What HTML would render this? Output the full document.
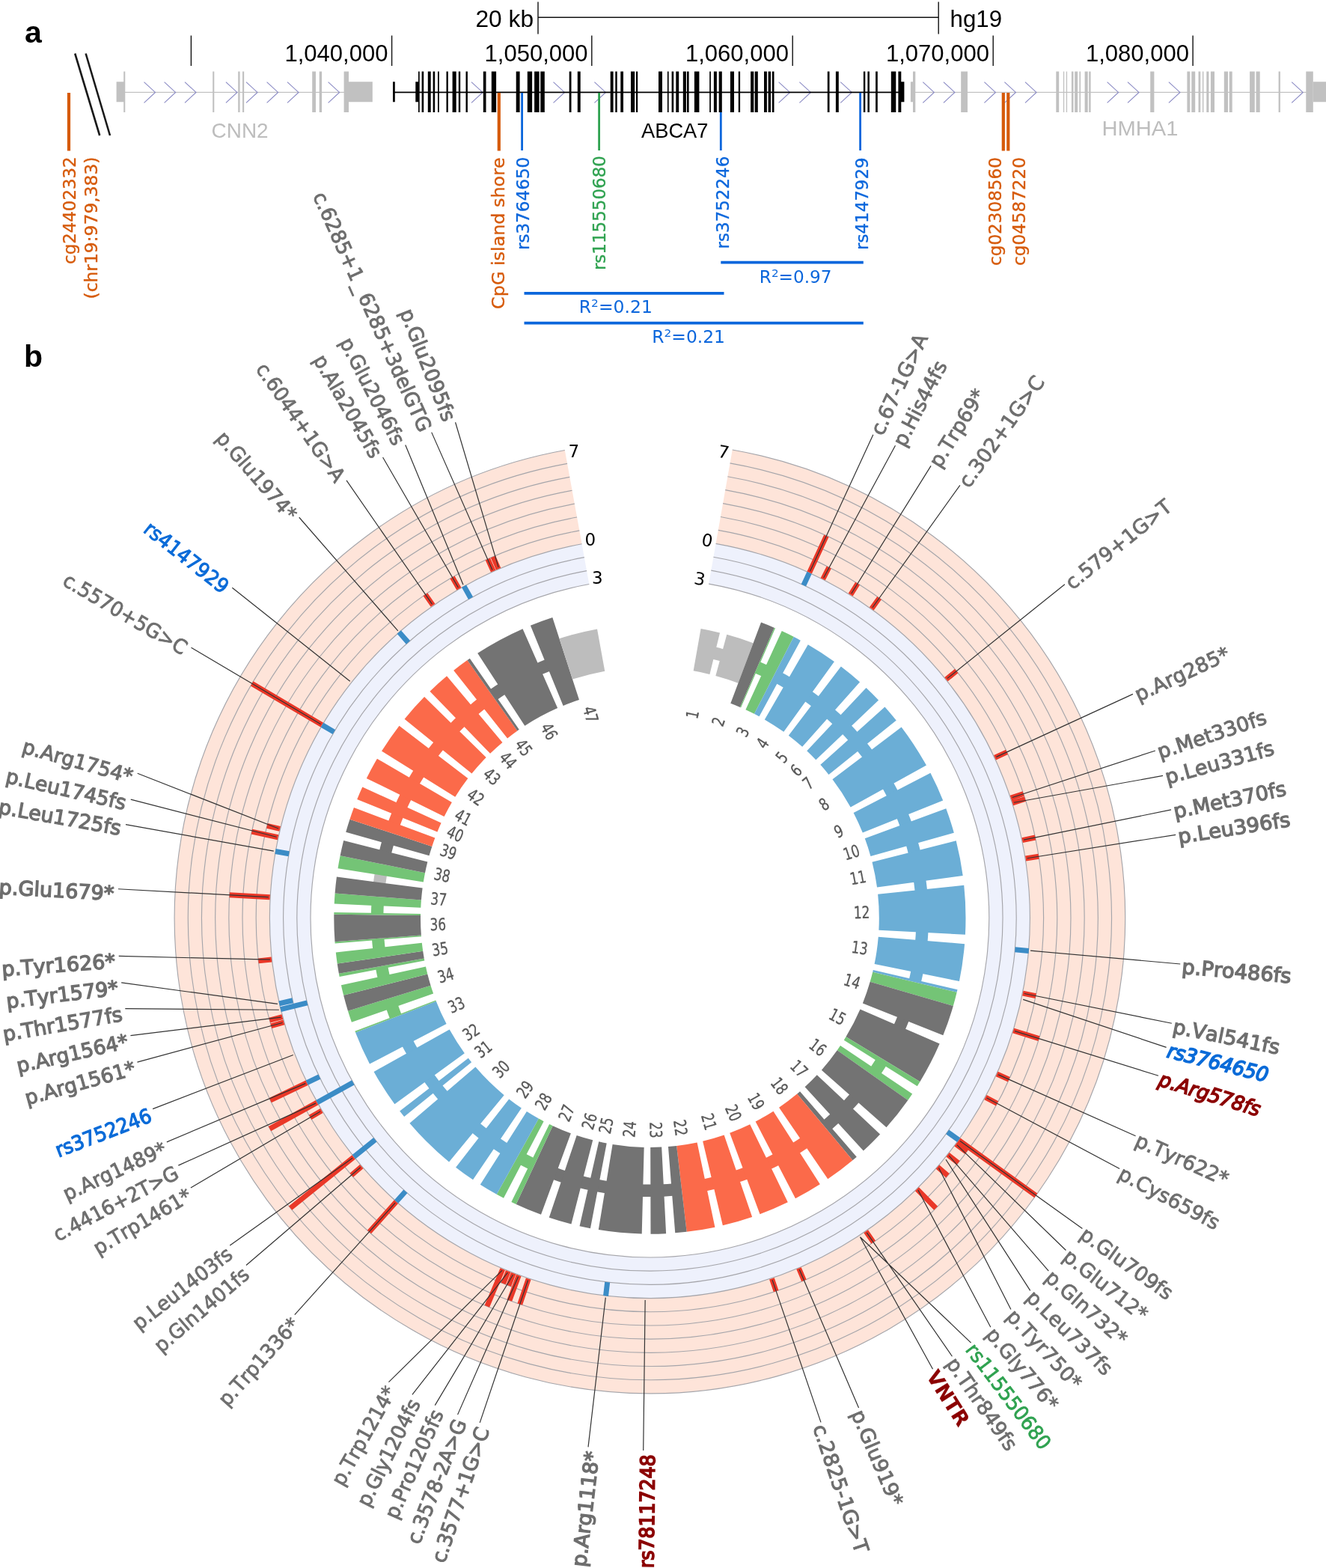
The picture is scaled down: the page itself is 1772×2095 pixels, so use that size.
<!DOCTYPE html>
<html><head><meta charset="utf-8"><title>ABCA7 locus and variants</title>
<style>
html,body{margin:0;padding:0;background:#fff}
svg{display:block}
text{font-kerning:none}
.h{font-family:"Liberation Sans",sans-serif}
.d{font-family:"DejaVu Sans","Liberation Sans",sans-serif}
.l{font-family:"DejaVu Sans","Liberation Sans",sans-serif;font-size:26.8px;font-kerning:none}
.n{font-family:"DejaVu Sans Condensed","DejaVu Sans","Liberation Sans",sans-serif;fill:#585858;stroke:#585858;stroke-width:0.3px}
</style></head><body>
<svg width="1772" height="2095" viewBox="0 0 1772 2095">
<rect width="1772" height="2095" fill="#fff"/>
<g id="panel-a">
<path d="M719 2.5V45.5M1254.2 2.5V45.5M719 23.2H1254.2" stroke="#111" stroke-width="1.4" fill="none"/>
<text x="713" y="36.2" font-size="32" text-anchor="end" textLength="77.5" lengthAdjust="spacingAndGlyphs" class="h">20 kb</text>
<text x="1269.5" y="36.2" font-size="32" textLength="69.5" lengthAdjust="spacingAndGlyphs" class="h">hg19</text>
<path d="M255.4 47.5V88M523.6 47.5V88M790.8 47.5V88M1059.2 47.5V88M1327.2 47.5V88M1594.1 47.5V88" stroke="#111" stroke-width="1.4" fill="none"/>
<text x="518.4" y="82" font-size="31" text-anchor="end" textLength="138" lengthAdjust="spacingAndGlyphs" class="h">1,040,000</text>
<text x="785.6" y="82" font-size="31" text-anchor="end" textLength="138" lengthAdjust="spacingAndGlyphs" class="h">1,050,000</text>
<text x="1054" y="82" font-size="31" text-anchor="end" textLength="138" lengthAdjust="spacingAndGlyphs" class="h">1,060,000</text>
<text x="1322" y="82" font-size="31" text-anchor="end" textLength="138" lengthAdjust="spacingAndGlyphs" class="h">1,070,000</text>
<text x="1588.9" y="82" font-size="31" text-anchor="end" textLength="138" lengthAdjust="spacingAndGlyphs" class="h">1,080,000</text>
<text x="33" y="57.3" font-size="41" font-weight="bold" class="h">a</text>
<text x="32" y="489.5" font-size="41" font-weight="bold" class="h">b</text>
<path d="M100.2 71.5L133.2 181M114.6 71.5L147 181" stroke="#1a1a1a" stroke-width="2.6" fill="none"/>
<path d="M166 123.4H460" stroke="#c1c1c1" stroke-width="1.4"/>
<path d="M192.5 109.6L207.5 123.4L192.5 137.3M219.6 109.6L234.6 123.4L219.6 137.3M247 109.6L262 123.4L247 137.3M301.9 109.6L316.9 123.4L301.9 137.3M329 109.6L344 123.4L329 137.3M356.6 109.6L371.6 123.4L356.6 137.3M384 109.6L399 123.4L384 137.3M438.6 109.6L453.6 123.4L438.6 137.3" fill="none" stroke="#8a8ac4" stroke-width="1.1"/>
<path d="M155.6 109.3H166.4V136.3H155.6ZM466 109.3H497.8V136.3H466Z" fill="#c1c1c1"/>
<path d="M165.2 95.5H167.3V150H165.2ZM284.2 95.5H286.3V150H284.2ZM318.2 95.5H320.6V150H318.2ZM324 95.5H326.2V150H324ZM417.2 95.5H422V150H417.2ZM426.7 95.5H430.1V150H426.7ZM459.6 95.5H466V150H459.6Z" fill="#c1c1c1"/>
<path d="M1223 123.4H1746" stroke="#c1c1c1" stroke-width="1.4"/>
<path d="M1233.3 109.6L1248.3 123.4L1233.3 137.3M1260.9 109.6L1275.9 123.4L1260.9 137.3M1315.4 109.6L1330.4 123.4L1315.4 137.3M1342.4 109.6L1357.4 123.4L1342.4 137.3M1370 109.6L1385 123.4L1370 137.3M1479.6 109.6L1494.6 123.4L1479.6 137.3M1507 109.6L1522 123.4L1507 137.3M1561.9 109.6L1576.9 123.4L1561.9 137.3M1726.2 109.6L1741.2 123.4L1726.2 137.3" fill="none" stroke="#8a8ac4" stroke-width="1.1"/>
<path d="M1216.9 109.3H1220.2V136.3H1216.9ZM1754.8 109.3H1772V136.3H1754.8Z" fill="#c1c1c1"/>
<path d="M1220 95.5H1223.3V150H1220ZM1284.2 95.5H1293V150H1284.2ZM1411.3 95.5H1415.2V150H1411.3ZM1420.9 95.5H1422.2V150H1420.9ZM1424.8 95.5H1426.1V150H1424.8ZM1431.9 95.5H1434.5V150H1431.9ZM1436.2 95.5H1440.2V150H1436.2ZM1442.4 95.5H1444.1V150H1442.4ZM1449.6 95.5H1453.7V150H1449.6ZM1455.2 95.5H1457.6V150H1455.2ZM1537.2 95.5H1542.4V150H1537.2ZM1586.4 95.5H1590.3V150H1586.4ZM1592.3 95.5H1597.2V150H1592.3ZM1601.5 95.5H1604.3V150H1601.5ZM1606.9 95.5H1608.4V150H1606.9ZM1612.3 95.5H1615.4V150H1612.3ZM1617.9 95.5H1623V150H1617.9ZM1635.8 95.5H1641V150H1635.8ZM1642.7 95.5H1646.7V150H1642.7ZM1670.1 95.5H1676.8V150H1670.1ZM1678.5 95.5H1683.7V150H1678.5ZM1708.6 95.5H1710.9V150H1708.6ZM1745.3 95.5H1754.8V150H1745.3Z" fill="#c1c1c1"/>
<path d="M630 109.6L645 123.4L630 137.3M739.5 109.6L754.5 123.4L739.5 137.3M794.4 109.6L809.4 123.4L794.4 137.3M1040.6 109.6L1055.6 123.4L1040.6 137.3M1068.4 109.6L1083.4 123.4L1068.4 137.3M1123.3 109.6L1138.3 123.4L1123.3 137.3" fill="none" stroke="#8a8ac4" stroke-width="1.1"/>
<path d="M526 123.4H1202" stroke="#000" stroke-width="1.9"/>
<path d="M525 109.3H527.8V136.3H525ZM555.3 109.3H559.2V136.3H555.3ZM1204 109.3H1208.4V136.3H1204Z" fill="#000"/>
<path d="M559 95.5H560.7V150H559ZM563.6 95.5H566.2V150H563.6ZM571.8 95.5H575.7V150H571.8ZM578.6 95.5H581.2V150H578.6ZM585 95.5H586.8V150H585ZM596.5 95.5H598.8V150H596.5ZM604.6 95.5H609.7V150H604.6ZM612.8 95.5H615.2V150H612.8ZM622.5 95.5H624.9V150H622.5ZM645.8 95.5H649.5V150H645.8ZM656.8 95.5H663.1V150H656.8ZM689.7 95.5H694.6V150H689.7ZM704.8 95.5H711.1V150H704.8ZM714.1 95.5H720.6V150H714.1ZM722.3 95.5H727.8V150H722.3ZM760.7 95.5H763.5V150H760.7ZM771.8 95.5H775.7V150H771.8ZM815.7 95.5H819.6V150H815.7ZM822.3 95.5H824.7V150H822.3ZM829.3 95.5H833V150H829.3ZM843 95.5H848.2V150H843ZM850 95.5H852.2V150H850ZM880 95.5H885V150H880ZM891.9 95.5H893.6V150H891.9ZM897.6 95.5H900.2V150H897.6ZM903.3 95.5H907.2V150H903.3ZM912.8 95.5H916.9V150H912.8ZM918 95.5H920.6V150H918ZM927.9 95.5H934.4V150H927.9ZM948.2 95.5H949.9V150H948.2ZM953.9 95.5H957.9V150H953.9ZM960.7 95.5H964.8V150H960.7ZM975.9 95.5H981V150H975.9ZM986.8 95.5H989.1V150H986.8ZM1003.1 95.5H1007.3V150H1003.1ZM1008.7 95.5H1012.8V150H1008.7ZM1021 95.5H1024.9V150H1021ZM1026.6 95.5H1030.1V150H1026.6ZM1031.8 95.5H1034.5V150H1031.8ZM1105.8 95.5H1108.5V150H1105.8ZM1116.9 95.5H1120.8V150H1116.9ZM1153.9 95.5H1156.3V150H1153.9ZM1159.4 95.5H1161.9V150H1159.4ZM1170.1 95.5H1172.8V150H1170.1ZM1190.8 95.5H1197.3V150H1190.8ZM1200.4 95.5H1204.3V150H1200.4Z" fill="#000"/>
<text x="282.6" y="184" font-size="28" fill="#bdbdbd" textLength="76" lengthAdjust="spacingAndGlyphs" class="h">CNN2</text>
<text x="857" y="184" font-size="28" fill="#000" textLength="89.5" lengthAdjust="spacingAndGlyphs" class="h">ABCA7</text>
<text x="1472.4" y="181.4" font-size="28" fill="#bdbdbd" textLength="102" lengthAdjust="spacingAndGlyphs" class="h">HMHA1</text>
<path d="M92 124V201.5M666.8 124V201.5M1340.8 124V201.5M1347.3 124V201.5" stroke="#d65a0a" stroke-width="4.2" fill="none"/>
<path d="M697.6 124V201M963.3 150V201M1149.6 124V201" stroke="#0a66dc" stroke-width="2.8" fill="none"/>
<path d="M800.6 124V201" stroke="#2fa250" stroke-width="2.8" fill="none"/>
<text transform="translate(100.7 352.9) rotate(-90)" font-size="23.3" fill="#d65a0a" stroke="#d65a0a" stroke-width="0.35" textLength="143.5" lengthAdjust="spacingAndGlyphs" class="d">cg24402332</text>
<text transform="translate(130 399.5) rotate(-90)" font-size="23.3" fill="#d65a0a" stroke="#d65a0a" stroke-width="0.35" textLength="190" lengthAdjust="spacingAndGlyphs" class="d">(chr19:979,383)</text>
<text transform="translate(674.4 412.9) rotate(-90)" font-size="23.3" fill="#d65a0a" stroke="#d65a0a" stroke-width="0.35" textLength="202.6" lengthAdjust="spacingAndGlyphs" class="d">CpG island shore</text>
<text transform="translate(707.1 334.1) rotate(-90)" font-size="23.3" fill="#0a66dc" stroke="#0a66dc" stroke-width="0.35" textLength="124.4" lengthAdjust="spacingAndGlyphs" class="d">rs3764650</text>
<text transform="translate(809.4 361.1) rotate(-90)" font-size="23.3" fill="#2fa250" stroke="#2fa250" stroke-width="0.35" textLength="153" lengthAdjust="spacingAndGlyphs" class="d">rs115550680</text>
<text transform="translate(973.5 332.5) rotate(-90)" font-size="23.3" fill="#0a66dc" stroke="#0a66dc" stroke-width="0.35" textLength="123.8" lengthAdjust="spacingAndGlyphs" class="d">rs3752246</text>
<text transform="translate(1159.5 334) rotate(-90)" font-size="23.3" fill="#0a66dc" stroke="#0a66dc" stroke-width="0.35" textLength="123.7" lengthAdjust="spacingAndGlyphs" class="d">rs4147929</text>
<text transform="translate(1338.3 354.9) rotate(-90)" font-size="23.3" fill="#d65a0a" stroke="#d65a0a" stroke-width="0.35" textLength="144.8" lengthAdjust="spacingAndGlyphs" class="d">cg02308560</text>
<text transform="translate(1370.2 354.9) rotate(-90)" font-size="23.3" fill="#d65a0a" stroke="#d65a0a" stroke-width="0.35" textLength="144.8" lengthAdjust="spacingAndGlyphs" class="d">cg04587220</text>
<path d="M963.3 350.6H1153.8M700.5 391.9H967.5M700.5 431.6H1153.8" stroke="#0a66dc" stroke-width="3.8" fill="none"/>
<text x="1014.8" y="377.9" font-size="22.2" fill="#0a66dc" textLength="96.8" lengthAdjust="spacingAndGlyphs" class="d">R<tspan font-size="14.5" dy="-8">2</tspan><tspan dy="8">=0.97</tspan></text>
<text x="773.8" y="418.3" font-size="22.2" fill="#0a66dc" textLength="98.1" lengthAdjust="spacingAndGlyphs" class="d">R<tspan font-size="14.5" dy="-8">2</tspan><tspan dy="8">=0.21</tspan></text>
<text x="871.3" y="457.9" font-size="22.2" fill="#0a66dc" textLength="97.7" lengthAdjust="spacingAndGlyphs" class="d">R<tspan font-size="14.5" dy="-8">2</tspan><tspan dy="8">=0.21</tspan></text>
</g>
<g id="panel-b">
<path d="M978.72 600.95A635.3 635.3 0 1 1 754.81 601.54L777.57 726.79A508 508 0 1 0 956.61 726.32Z" fill="#fee4d9"/>
<path d="M956.61 726.32A508 508 0 1 1 777.57 726.79L787.33 780.51A453.4 453.4 0 1 0 947.13 780.09Z" fill="#eef1fc"/>
<path d="M956.61 726.32A508 508 0 1 1 777.57 726.79" fill="none" stroke="#a5a5aa" stroke-width="1.15"/>
<path d="M959.77 708.41A526.19 526.19 0 1 1 774.32 708.89" fill="none" stroke="#a5a5aa" stroke-width="1.15"/>
<path d="M962.93 690.5A544.37 544.37 0 1 1 771.07 691" fill="none" stroke="#a5a5aa" stroke-width="1.15"/>
<path d="M966.09 672.59A562.56 562.56 0 1 1 767.81 673.11" fill="none" stroke="#a5a5aa" stroke-width="1.15"/>
<path d="M969.24 654.68A580.74 580.74 0 1 1 764.56 655.22" fill="none" stroke="#a5a5aa" stroke-width="1.15"/>
<path d="M972.4 636.77A598.93 598.93 0 1 1 761.31 637.32" fill="none" stroke="#a5a5aa" stroke-width="1.15"/>
<path d="M975.56 618.86A617.11 617.11 0 1 1 758.06 619.43" fill="none" stroke="#a5a5aa" stroke-width="1.15"/>
<path d="M978.72 600.95A635.3 635.3 0 1 1 754.81 601.54" fill="none" stroke="#a5a5aa" stroke-width="1.15"/>
<path d="M953.45 744.24A489.8 489.8 0 1 1 780.82 744.69" fill="none" stroke="#a5a5aa" stroke-width="1.15"/>
<path d="M950.29 762.16A471.6 471.6 0 1 1 784.08 762.6" fill="none" stroke="#a5a5aa" stroke-width="1.15"/>
<path d="M947.13 780.09A453.4 453.4 0 1 1 787.33 780.51" fill="none" stroke="#a5a5aa" stroke-width="1.15"/>
<path d="M956.31 864.62A372.5 372.5 0 0 1 967.01 867.39L962.64 883.3A356 356 0 0 0 952.41 880.66Z" fill="#bdbdbd"/>
<path d="M1015.44 884.35A372.5 372.5 0 0 1 1024.94 888.59L1018.01 903.56A356 356 0 0 0 1008.93 899.51Z" fill="#74c476"/>
<path d="M1045.28 898.78A372.5 372.5 0 0 1 1055.77 904.66L1047.48 918.92A356 356 0 0 0 1037.45 913.3Z" fill="#6baed6"/>
<path d="M1085.14 923.64A372.5 372.5 0 0 1 1094.6 930.64L1084.58 943.75A356 356 0 0 0 1075.53 937.06Z" fill="#6baed6"/>
<path d="M1115.37 947.74A372.5 372.5 0 0 1 1124.25 955.86L1112.91 967.85A356 356 0 0 0 1104.43 960.1Z" fill="#6baed6"/>
<path d="M1137.48 969.01A372.5 372.5 0 0 1 1146.18 978.41L1133.87 989.41A356 356 0 0 0 1125.56 980.42Z" fill="#6baed6"/>
<path d="M1158.42 992.84A372.5 372.5 0 0 1 1165.7 1002.16L1152.53 1012.11A356 356 0 0 0 1145.57 1003.19Z" fill="#6baed6"/>
<path d="M1194.04 1045.72A372.5 372.5 0 0 1 1199.8 1056.5L1185.12 1064.04A356 356 0 0 0 1179.61 1053.74Z" fill="#6baed6"/>
<path d="M1213.78 1087.06A372.5 372.5 0 0 1 1218.1 1098.28L1202.61 1103.97A356 356 0 0 0 1198.48 1093.24Z" fill="#6baed6"/>
<path d="M1226.81 1125.11A372.5 372.5 0 0 1 1229.82 1136.42L1213.81 1140.42A356 356 0 0 0 1210.93 1129.61Z" fill="#6baed6"/>
<path d="M1237.42 1175.79A372.5 372.5 0 0 1 1238.99 1188.96L1222.58 1190.62A356 356 0 0 0 1221.07 1178.04Z" fill="#6baed6"/>
<path d="M1240.44 1245.12A372.5 372.5 0 0 1 1239.57 1258.09L1223.13 1256.7A356 356 0 0 0 1223.96 1244.3Z" fill="#6baed6"/>
<path d="M1233.55 1300.23A372.5 372.5 0 0 1 1230.98 1311.98L1214.92 1308.2A356 356 0 0 0 1217.38 1296.97Z" fill="#6baed6"/>
<path d="M1214.62 1364.03A372.5 372.5 0 0 1 1209.75 1375.73L1194.63 1369.12A356 356 0 0 0 1199.29 1357.94Z" fill="#737373"/>
<path d="M1184.3 1423.99A372.5 372.5 0 0 1 1177.4 1434.63L1163.71 1425.42A356 356 0 0 0 1170.31 1415.25Z" fill="#74c476"/>
<path d="M1148.03 1472.69A372.5 372.5 0 0 1 1139.27 1482.3L1127.27 1470.98A356 356 0 0 0 1135.64 1461.79Z" fill="#737373"/>
<path d="M1121.01 1500.36A372.5 372.5 0 0 1 1111.55 1508.79L1100.78 1496.29A356 356 0 0 0 1109.82 1488.23Z" fill="#737373"/>
<path d="M1079.12 1533.77A372.5 372.5 0 0 1 1068.27 1540.94L1059.42 1527.01A356 356 0 0 0 1069.78 1520.16Z" fill="#fb6a4a"/>
<path d="M1040.98 1556.71A372.5 372.5 0 0 1 1030.23 1562.11L1023.06 1547.25A356 356 0 0 0 1033.33 1542.09Z" fill="#fb6a4a"/>
<path d="M999.16 1575.4A372.5 372.5 0 0 1 988.14 1579.33L982.83 1563.71A356 356 0 0 0 993.36 1559.95Z" fill="#fb6a4a"/>
<path d="M955.36 1588.81A372.5 372.5 0 0 1 944.26 1591.29L940.9 1575.14A356 356 0 0 0 951.51 1572.76Z" fill="#fb6a4a"/>
<path d="M899.25 1597.82A372.5 372.5 0 0 1 886.6 1598.66L885.79 1582.17A356 356 0 0 0 897.88 1581.38Z" fill="#737373"/>
<path d="M870.35 1599.09A372.5 372.5 0 0 1 858 1598.95L858.46 1582.46A356 356 0 0 0 870.26 1582.6Z" fill="#737373"/>
<path d="M808.84 1594.31A372.5 372.5 0 0 1 797.32 1592.26L800.47 1576.06A356 356 0 0 0 811.48 1578.02Z" fill="#737373"/>
<path d="M786.51 1589.99A372.5 372.5 0 0 1 774.82 1587.15L778.96 1571.18A356 356 0 0 0 790.13 1573.89Z" fill="#737373"/>
<path d="M750.51 1579.95A372.5 372.5 0 0 1 739.17 1575.96L744.89 1560.49A356 356 0 0 0 755.73 1564.3Z" fill="#737373"/>
<path d="M705.98 1561.83A372.5 372.5 0 0 1 695.13 1556.35L702.81 1541.74A356 356 0 0 0 713.18 1546.98Z" fill="#74c476"/>
<path d="M669.24 1541.39A372.5 372.5 0 0 1 659.02 1534.69L668.3 1521.04A356 356 0 0 0 678.07 1527.45Z" fill="#6baed6"/>
<path d="M640.35 1521.13A372.5 372.5 0 0 1 630.86 1513.53L641.38 1500.82A356 356 0 0 0 650.45 1508.09Z" fill="#6baed6"/>
<path d="M585.78 1469.26A372.5 372.5 0 0 1 578.1 1460.01L590.96 1449.67A356 356 0 0 0 598.3 1458.51Z" fill="#6baed6"/>
<path d="M574.07 1454.91A372.5 372.5 0 0 1 566.85 1445.29L580.21 1435.6A356 356 0 0 0 587.1 1444.79Z" fill="#6baed6"/>
<path d="M543.4 1408.61A372.5 372.5 0 0 1 537.54 1397.74L552.19 1390.16A356 356 0 0 0 557.79 1400.55Z" fill="#6baed6"/>
<path d="M520.99 1361A372.5 372.5 0 0 1 516.41 1348.49L532 1343.09A356 356 0 0 0 536.38 1355.05Z" fill="#74c476"/>
<path d="M504.59 1306.59A372.5 372.5 0 0 1 502.2 1294.8L518.42 1291.78A356 356 0 0 0 520.7 1303.05Z" fill="#74c476"/>
<path d="M498.21 1267.99A372.5 372.5 0 0 1 497.02 1255.5L513.47 1254.22A356 356 0 0 0 514.6 1266.16Z" fill="#74c476"/>
<path d="M495.94 1220.81A372.5 372.5 0 0 1 496.32 1208.86L512.8 1209.64A356 356 0 0 0 512.44 1221.07Z" fill="#74c476"/>
<path d="M498.96 1178.95A372.5 372.5 0 0 1 500.69 1167.04L516.98 1169.68A356 356 0 0 0 515.33 1181.06Z" fill="#bdbdbd"/>
<path d="M507.04 1136.17A372.5 372.5 0 0 1 510.2 1124.36L526.07 1128.89A356 356 0 0 0 523.05 1140.17Z" fill="#737373"/>
<path d="M519.06 1097.31A372.5 372.5 0 0 1 523.54 1085.79L538.81 1092.03A356 356 0 0 0 534.53 1103.03Z" fill="#fb6a4a"/>
<path d="M529.04 1073.01A372.5 372.5 0 0 1 534.75 1060.97L549.53 1068.31A356 356 0 0 0 544.07 1079.82Z" fill="#fb6a4a"/>
<path d="M546.29 1039.51A372.5 372.5 0 0 1 552.67 1028.93L566.66 1037.69A356 356 0 0 0 560.56 1047.79Z" fill="#fb6a4a"/>
<path d="M572.28 1000.61A372.5 372.5 0 0 1 579.73 991.17L592.52 1001.6A356 356 0 0 0 585.4 1010.62Z" fill="#fb6a4a"/>
<path d="M601.8 966.44A372.5 372.5 0 0 1 609.73 958.56L621.19 970.43A356 356 0 0 0 613.61 977.96Z" fill="#fb6a4a"/>
<path d="M628.22 941.88A372.5 372.5 0 0 1 637.79 934.07L648 947.03A356 356 0 0 0 638.85 954.49Z" fill="#fb6a4a"/>
<path d="M655.28 921.09A372.5 372.5 0 0 1 666.07 913.84L675.03 927.7A356 356 0 0 0 664.72 934.63Z" fill="#737373"/>
<path d="M717.6 885.99A372.5 372.5 0 0 1 728.56 881.35L734.75 896.64A356 356 0 0 0 724.28 901.08Z" fill="#737373"/>
<path d="M936.56 840.06A392.5 392.5 0 0 1 962.02 845.43L948.4 900.88A335.4 335.4 0 0 0 926.64 896.3Z" fill="#bdbdbd"/>
<path d="M971.31 847.83A392.5 392.5 0 0 1 1006.63 859.24L986.52 912.69A335.4 335.4 0 0 0 956.34 902.93Z" fill="#bdbdbd"/>
<path d="M1017.05 831.54A422.1 422.1 0 0 1 1034.68 838.63L989.1 944.98A306.4 306.4 0 0 0 976.3 939.83Z" fill="#737373"/>
<path d="M1034.68 838.63A422.1 422.1 0 0 1 1036.04 839.22L990.09 945.4A306.4 306.4 0 0 0 989.1 944.98Z" fill="#74c476"/>
<path d="M1044.78 843.12A422.1 422.1 0 0 1 1060.69 850.84L1007.98 953.84A306.4 306.4 0 0 0 996.43 948.23Z" fill="#74c476"/>
<path d="M1060.69 850.84A422.1 422.1 0 0 1 1069.81 855.65L1014.6 957.33A306.4 306.4 0 0 0 1007.98 953.84Z" fill="#6baed6"/>
<path d="M1079.77 861.23A422.1 422.1 0 0 1 1114.89 883.95L1047.33 977.87A306.4 306.4 0 0 0 1021.83 961.38Z" fill="#6baed6"/>
<path d="M1123.84 890.56A422.1 422.1 0 0 1 1149.08 911.35L1072.15 997.76A306.4 306.4 0 0 0 1053.82 982.67Z" fill="#6baed6"/>
<path d="M1157.51 919.05A422.1 422.1 0 0 1 1174.07 935.51L1090.29 1015.3A306.4 306.4 0 0 0 1078.26 1003.35Z" fill="#6baed6"/>
<path d="M1182.43 944.54A422.1 422.1 0 0 1 1197.73 962.57L1107.46 1034.94A306.4 306.4 0 0 0 1096.35 1021.86Z" fill="#6baed6"/>
<path d="M1204.62 971.4A422.1 422.1 0 0 1 1237.93 1022.61L1136.64 1078.52A306.4 306.4 0 0 0 1112.46 1041.35Z" fill="#6baed6"/>
<path d="M1243.42 1032.87A422.1 422.1 0 0 1 1260.18 1069.5L1152.79 1112.56A306.4 306.4 0 0 0 1140.62 1085.97Z" fill="#6baed6"/>
<path d="M1264.28 1080.16A422.1 422.1 0 0 1 1274.83 1112.66L1163.43 1143.89A306.4 306.4 0 0 0 1155.77 1120.3Z" fill="#6baed6"/>
<path d="M1277.68 1123.34A422.1 422.1 0 0 1 1286.7 1170.12L1172.04 1185.6A306.4 306.4 0 0 0 1165.49 1151.65Z" fill="#6baed6"/>
<path d="M1288.23 1182.84A422.1 422.1 0 0 1 1289.92 1248.69L1174.38 1242.64A306.4 306.4 0 0 0 1173.15 1194.84Z" fill="#6baed6"/>
<path d="M1289.08 1261.19A422.1 422.1 0 0 1 1281.95 1311.11L1168.6 1287.95A306.4 306.4 0 0 0 1173.77 1251.71Z" fill="#6baed6"/>
<path d="M1279.52 1322.27A422.1 422.1 0 0 1 1278.66 1325.85L1166.21 1298.65A306.4 306.4 0 0 0 1166.83 1296.05Z" fill="#6baed6"/>
<path d="M1278.66 1325.85A422.1 422.1 0 0 1 1273.84 1344.01L1162.71 1311.83A306.4 306.4 0 0 0 1166.21 1298.65Z" fill="#74c476"/>
<path d="M1273.84 1344.01A422.1 422.1 0 0 1 1260.31 1383.35L1152.89 1340.39A306.4 306.4 0 0 0 1162.71 1311.83Z" fill="#737373"/>
<path d="M1255.64 1394.57A422.1 422.1 0 0 1 1229.45 1445.26L1130.48 1385.32A306.4 306.4 0 0 0 1149.49 1348.53Z" fill="#737373"/>
<path d="M1229.45 1445.26A422.1 422.1 0 0 1 1225.77 1451.22L1127.82 1389.65A306.4 306.4 0 0 0 1130.48 1385.32Z" fill="#74c476"/>
<path d="M1219.16 1461.41A422.1 422.1 0 0 1 1213.32 1469.91L1118.77 1403.22A306.4 306.4 0 0 0 1123.01 1397.05Z" fill="#74c476"/>
<path d="M1213.32 1469.91A422.1 422.1 0 0 1 1184.53 1506.29L1097.88 1429.63A306.4 306.4 0 0 0 1118.77 1403.22Z" fill="#737373"/>
<path d="M1176.1 1515.55A422.1 422.1 0 0 1 1153.84 1537.56L1075.6 1452.32A306.4 306.4 0 0 0 1091.76 1436.35Z" fill="#737373"/>
<path d="M1144.77 1545.65A422.1 422.1 0 0 1 1139.44 1550.18L1065.15 1461.49A306.4 306.4 0 0 0 1069.01 1458.19Z" fill="#737373"/>
<path d="M1139.44 1550.18A422.1 422.1 0 0 1 1106.26 1575.3L1041.06 1479.72A306.4 306.4 0 0 0 1065.15 1461.49Z" fill="#fb6a4a"/>
<path d="M1095.82 1582.2A422.1 422.1 0 0 1 1062.98 1601.18L1009.64 1498.5A306.4 306.4 0 0 0 1033.48 1484.73Z" fill="#fb6a4a"/>
<path d="M1052.77 1606.3A422.1 422.1 0 0 1 1015.53 1622.23L975.2 1513.78A306.4 306.4 0 0 0 1002.24 1502.22Z" fill="#fb6a4a"/>
<path d="M1005.13 1625.94A422.1 422.1 0 0 1 965.86 1637.29L939.15 1524.72A306.4 306.4 0 0 0 967.65 1516.48Z" fill="#fb6a4a"/>
<path d="M955.44 1639.63A422.1 422.1 0 0 1 917.65 1645.82L904.15 1530.91A306.4 306.4 0 0 0 931.58 1526.42Z" fill="#fb6a4a"/>
<path d="M917.65 1645.82A422.1 422.1 0 0 1 902.25 1647.34L892.97 1532.01A306.4 306.4 0 0 0 904.15 1530.91Z" fill="#737373"/>
<path d="M890.12 1648.14A422.1 422.1 0 0 1 869.51 1648.7L869.2 1533A306.4 306.4 0 0 0 884.17 1532.59Z" fill="#737373"/>
<path d="M857.72 1648.56A422.1 422.1 0 0 1 799.82 1643.09L818.62 1528.93A306.4 306.4 0 0 0 860.65 1532.9Z" fill="#737373"/>
<path d="M788.94 1641.15A422.1 422.1 0 0 1 774.53 1638.13L800.26 1525.33A306.4 306.4 0 0 0 810.72 1527.52Z" fill="#737373"/>
<path d="M763.43 1635.44A422.1 422.1 0 0 1 733.77 1626.65L770.67 1517A306.4 306.4 0 0 0 792.2 1523.37Z" fill="#737373"/>
<path d="M723 1622.86A422.1 422.1 0 0 1 689.68 1609L738.67 1504.18A306.4 306.4 0 0 0 762.85 1514.25Z" fill="#737373"/>
<path d="M689.68 1609A422.1 422.1 0 0 1 683.36 1605.98L734.08 1501.99A306.4 306.4 0 0 0 738.67 1504.18Z" fill="#74c476"/>
<path d="M673.04 1600.77A422.1 422.1 0 0 1 663.76 1595.78L719.85 1494.58A306.4 306.4 0 0 0 726.59 1498.21Z" fill="#74c476"/>
<path d="M663.76 1595.78A422.1 422.1 0 0 1 641.79 1582.71L703.91 1485.1A306.4 306.4 0 0 0 719.85 1494.58Z" fill="#6baed6"/>
<path d="M632.06 1576.33A422.1 422.1 0 0 1 609.11 1559.67L680.18 1468.38A306.4 306.4 0 0 0 696.84 1480.47Z" fill="#6baed6"/>
<path d="M600.08 1552.44A422.1 422.1 0 0 1 547.43 1500.73L635.41 1425.59A306.4 306.4 0 0 0 673.63 1463.13Z" fill="#6baed6"/>
<path d="M540.14 1491.95A422.1 422.1 0 0 1 534.2 1484.43L625.81 1413.76A306.4 306.4 0 0 0 630.11 1419.22Z" fill="#6baed6"/>
<path d="M527.35 1475.3A422.1 422.1 0 0 1 499.58 1431.88L600.68 1375.61A306.4 306.4 0 0 0 620.83 1407.13Z" fill="#6baed6"/>
<path d="M493.99 1421.5A422.1 422.1 0 0 1 475 1379.59L582.83 1337.65A306.4 306.4 0 0 0 596.62 1368.08Z" fill="#6baed6"/>
<path d="M475 1379.59A422.1 422.1 0 0 1 474.34 1377.87L582.35 1336.4A306.4 306.4 0 0 0 582.83 1337.65Z" fill="#74c476"/>
<path d="M469.9 1365.76A422.1 422.1 0 0 1 464.96 1350.71L575.55 1316.69A306.4 306.4 0 0 0 579.13 1327.62Z" fill="#74c476"/>
<path d="M464.96 1350.71A422.1 422.1 0 0 1 459.11 1329.79L571.3 1301.5A306.4 306.4 0 0 0 575.55 1316.69Z" fill="#737373"/>
<path d="M459.11 1329.79A422.1 422.1 0 0 1 455.91 1316.16L568.98 1291.61A306.4 306.4 0 0 0 571.3 1301.5Z" fill="#74c476"/>
<path d="M453.64 1304.97A422.1 422.1 0 0 1 452.88 1300.84L566.78 1280.49A306.4 306.4 0 0 0 567.33 1283.49Z" fill="#74c476"/>
<path d="M452.88 1300.84A422.1 422.1 0 0 1 450.72 1287.53L565.21 1270.83A306.4 306.4 0 0 0 566.78 1280.49Z" fill="#737373"/>
<path d="M450.72 1287.53A422.1 422.1 0 0 1 448.79 1272.41L563.81 1259.85A306.4 306.4 0 0 0 565.21 1270.83Z" fill="#74c476"/>
<path d="M447.66 1260.45A422.1 422.1 0 0 1 447.49 1258.25L562.86 1249.57A306.4 306.4 0 0 0 562.99 1251.17Z" fill="#74c476"/>
<path d="M447.49 1258.25A422.1 422.1 0 0 1 446.33 1221.81L562.02 1223.12A306.4 306.4 0 0 0 562.86 1249.57Z" fill="#737373"/>
<path d="M446.33 1221.81A422.1 422.1 0 0 1 446.37 1218.94L562.05 1221.04A306.4 306.4 0 0 0 562.02 1223.12Z" fill="#74c476"/>
<path d="M446.73 1207.6A422.1 422.1 0 0 1 447.6 1193.48L562.94 1202.56A306.4 306.4 0 0 0 562.31 1212.81Z" fill="#74c476"/>
<path d="M447.6 1193.48A422.1 422.1 0 0 1 449.91 1171.5L564.62 1186.61A306.4 306.4 0 0 0 562.94 1202.56Z" fill="#737373"/>
<path d="M451.55 1160.21A422.1 422.1 0 0 1 454.6 1143.31L568.02 1166.14A306.4 306.4 0 0 0 565.81 1178.4Z" fill="#74c476"/>
<path d="M454.6 1143.31A422.1 422.1 0 0 1 459.2 1123.06L571.36 1151.44A306.4 306.4 0 0 0 568.02 1166.14Z" fill="#737373"/>
<path d="M462.21 1111.81A422.1 422.1 0 0 1 467.42 1094.76L577.33 1130.9A306.4 306.4 0 0 0 573.55 1143.28Z" fill="#737373"/>
<path d="M467.42 1094.76A422.1 422.1 0 0 1 472.93 1079.05L581.33 1119.5A306.4 306.4 0 0 0 577.33 1130.9Z" fill="#fb6a4a"/>
<path d="M477.2 1068.07A422.1 422.1 0 0 1 484.31 1051.56L589.59 1099.54A306.4 306.4 0 0 0 584.43 1111.52Z" fill="#fb6a4a"/>
<path d="M489.83 1039.91A422.1 422.1 0 0 1 503.96 1013.64L603.86 1072.01A306.4 306.4 0 0 0 593.6 1091.08Z" fill="#fb6a4a"/>
<path d="M510.05 1003.55A422.1 422.1 0 0 1 533.53 969.64L625.32 1040.08A306.4 306.4 0 0 0 608.28 1064.69Z" fill="#fb6a4a"/>
<path d="M540.6 960.68A422.1 422.1 0 0 1 567.08 931.01L649.67 1012.03A306.4 306.4 0 0 0 630.45 1033.57Z" fill="#fb6a4a"/>
<path d="M574.5 923.63A422.1 422.1 0 0 1 597.08 903.25L671.45 991.88A306.4 306.4 0 0 0 655.06 1006.68Z" fill="#fb6a4a"/>
<path d="M606.21 895.8A422.1 422.1 0 0 1 624.49 882.11L691.34 976.54A306.4 306.4 0 0 0 678.08 986.48Z" fill="#fb6a4a"/>
<path d="M624.49 882.11A422.1 422.1 0 0 1 627.8 879.78L693.75 974.85A306.4 306.4 0 0 0 691.34 976.54Z" fill="#737373"/>
<path d="M638.2 872.8A422.1 422.1 0 0 1 698.54 840.19L745.1 946.11A306.4 306.4 0 0 0 701.3 969.78Z" fill="#737373"/>
<path d="M708.91 835.79A422.1 422.1 0 0 1 738.31 825.05L773.97 935.11A306.4 306.4 0 0 0 752.63 942.91Z" fill="#737373"/>
<path d="M747.44 853.2A392.5 392.5 0 0 1 798.02 840.46L808.26 896.64A335.4 335.4 0 0 0 765.03 907.53Z" fill="#bdbdbd"/>
<text transform="translate(924.59 959.96) rotate(-78.1) scale(0.84 1)" font-size="22.5" class="n" dy="7.6">1</text>
<text transform="translate(958.47 969.41) rotate(-70.7) scale(0.84 1)" font-size="22.5" class="n" dy="7.6">2</text>
<text transform="translate(990.41 982.94) rotate(-63.4) scale(0.84 1)" font-size="22.5" class="n" dy="7.6">3</text>
<text transform="translate(1016.38 997.78) rotate(-57.11) scale(0.84 1)" font-size="22.5" class="n" dy="7.6">4</text>
<text transform="translate(1041.58 1016.21) rotate(-50.54) scale(0.84 1)" font-size="22.5" class="n" dy="7.6">5</text>
<text transform="translate(1060.46 1033.29) rotate(-45.19) scale(0.84 1)" font-size="22.5" class="n" dy="7.6">6</text>
<text transform="translate(1076.15 1050.26) rotate(-40.33) scale(0.84 1)" font-size="22.5" class="n" dy="7.6">7</text>
<text transform="translate(1096.81 1077.99) rotate(-33.05) scale(0.84 1)" font-size="22.5" class="n" dy="7.6">8</text>
<text transform="translate(1116.2 1113.23) rotate(-24.58) scale(0.84 1)" font-size="22.5" class="n" dy="7.6">9</text>
<text transform="translate(1127.59 1142.48) rotate(-17.98) scale(0.84 1)" font-size="22.5" class="n" dy="7.6">10</text>
<text transform="translate(1135.96 1174.95) rotate(-10.92) scale(0.84 1)" font-size="22.5" class="n" dy="7.6">11</text>
<text transform="translate(1140.81 1219.59) rotate(-1.47) scale(0.84 1)" font-size="22.5" class="n" dy="7.6">12</text>
<text transform="translate(1138.16 1265.11) rotate(8.12) scale(0.84 1)" font-size="22.5" class="n" dy="7.6">13</text>
<text transform="translate(1128.36 1308.32) rotate(17.45) scale(0.84 1)" font-size="22.5" class="n" dy="7.6">14</text>
<text transform="translate(1109.45 1353.69) rotate(27.8) scale(0.84 1)" font-size="22.5" class="n" dy="7.6">15</text>
<text transform="translate(1084.15 1393.05) rotate(37.65) scale(0.84 1)" font-size="22.5" class="n" dy="7.6">16</text>
<text transform="translate(1059.99 1420.38) rotate(45.32) scale(0.84 1)" font-size="22.5" class="n" dy="7.6">17</text>
<text transform="translate(1034.66 1442.5) rotate(52.4) scale(0.84 1)" font-size="22.5" class="n" dy="7.6">18</text>
<text transform="translate(1004.75 1462.53) rotate(59.98) scale(0.84 1)" font-size="22.5" class="n" dy="7.6">19</text>
<text transform="translate(975.53 1477.16) rotate(66.85) scale(0.84 1)" font-size="22.5" class="n" dy="7.6">20</text>
<text transform="translate(944.08 1488.38) rotate(73.88) scale(0.84 1)" font-size="22.5" class="n" dy="7.6">21</text>
<text transform="translate(907.5 1496.28) rotate(81.75) scale(0.84 1)" font-size="22.5" class="n" dy="7.6">22</text>
<text transform="translate(875.77 1499) rotate(88.45) scale(0.84 1)" font-size="22.5" class="n" dy="7.6">23</text>
<text transform="translate(842.76 1497.89) rotate(275.4) scale(0.84 1)" font-size="22.5" class="n" text-anchor="end" dy="7.6">24</text>
<text transform="translate(812.44 1493.29) rotate(281.85) scale(0.84 1)" font-size="22.5" class="n" text-anchor="end" dy="7.6">25</text>
<text transform="translate(791.01 1487.88) rotate(286.5) scale(0.84 1)" font-size="22.5" class="n" text-anchor="end" dy="7.6">26</text>
<text transform="translate(761.6 1477.3) rotate(293.07) scale(0.84 1)" font-size="22.5" class="n" text-anchor="end" dy="7.6">27</text>
<text transform="translate(732.07 1462.54) rotate(300.02) scale(0.84 1)" font-size="22.5" class="n" text-anchor="end" dy="7.6">28</text>
<text transform="translate(708.32 1447.13) rotate(305.98) scale(0.84 1)" font-size="22.5" class="n" text-anchor="end" dy="7.6">29</text>
<text transform="translate(677.45 1421.01) rotate(314.49) scale(0.84 1)" font-size="22.5" class="n" text-anchor="end" dy="7.6">30</text>
<text transform="translate(654.55 1395.49) rotate(321.7) scale(0.84 1)" font-size="22.5" class="n" text-anchor="end" dy="7.6">31</text>
<text transform="translate(638.83 1373.42) rotate(327.4) scale(0.84 1)" font-size="22.5" class="n" text-anchor="end" dy="7.6">32</text>
<text transform="translate(619.94 1338.52) rotate(335.75) scale(0.84 1)" font-size="22.5" class="n" text-anchor="end" dy="7.6">33</text>
<text transform="translate(606.13 1300.57) rotate(344.25) scale(0.84 1)" font-size="22.5" class="n" text-anchor="end" dy="7.6">34</text>
<text transform="translate(598.87 1266.71) rotate(351.53) scale(0.84 1)" font-size="22.5" class="n" text-anchor="end" dy="7.6">35</text>
<text transform="translate(596.03 1235.06) rotate(358.22) scale(0.84 1)" font-size="22.5" class="n" text-anchor="end" dy="7.6">36</text>
<text transform="translate(596.95 1202.66) rotate(365.04) scale(0.84 1)" font-size="22.5" class="n" text-anchor="end" dy="7.6">37</text>
<text transform="translate(601.49 1171.69) rotate(371.62) scale(0.84 1)" font-size="22.5" class="n" text-anchor="end" dy="7.6">38</text>
<text transform="translate(609.41 1141.85) rotate(378.12) scale(0.84 1)" font-size="22.5" class="n" text-anchor="end" dy="7.6">39</text>
<text transform="translate(618.09 1118.9) rotate(383.28) scale(0.84 1)" font-size="22.5" class="n" text-anchor="end" dy="7.6">40</text>
<text transform="translate(628.41 1097.52) rotate(388.27) scale(0.84 1)" font-size="22.5" class="n" text-anchor="end" dy="7.6">41</text>
<text transform="translate(644.37 1071.47) rotate(394.7) scale(0.84 1)" font-size="22.5" class="n" text-anchor="end" dy="7.6">42</text>
<text transform="translate(665.1 1045.15) rotate(401.75) scale(0.84 1)" font-size="22.5" class="n" text-anchor="end" dy="7.6">43</text>
<text transform="translate(685.83 1024.3) rotate(407.94) scale(0.84 1)" font-size="22.5" class="n" text-anchor="end" dy="7.6">44</text>
<text transform="translate(706.02 1007.76) rotate(413.43) scale(0.84 1)" font-size="22.5" class="n" text-anchor="end" dy="7.6">45</text>
<text transform="translate(738.83 986.87) rotate(421.61) scale(0.84 1)" font-size="22.5" class="n" text-anchor="end" dy="7.6">46</text>
<text transform="translate(792.08 965.01) rotate(433.74) scale(0.84 1)" font-size="22.5" class="n" text-anchor="end" dy="7.6">47</text>
<path d="M1081.69 765L1104.37 715.92M1099.73 773.77L1107.77 758.02M1136.73 794.66L1146.07 779.64M1164.77 813.4L1175.08 799.03M1264.42 907.63L1278.19 896.53M1329.52 1012.26L1345.56 1004.81M1350.9 1066.09L1367.69 1060.51M1353.1 1072.84L1369.96 1067.5M1366.15 1122.61L1383.47 1119M1370.64 1147.05L1388.11 1144.29M1366.87 1327.11L1384.2 1330.6M1354.16 1376.97L1388.43 1387.58M1332.21 1435.05L1348.34 1442.3M1316.96 1466.11L1332.56 1474.44M1281.34 1523.33L1384.32 1597.32M1277.43 1528.71L1291.65 1539.22M1266.63 1542.8L1280.48 1553.8M1253.04 1559.2L1266.42 1570.77M1225.44 1588.67L1250.63 1614.21M1157.15 1645.16L1167.19 1659.72M1067.5 1694.5L1074.42 1710.78M1031.43 1708.26L1037.1 1725.01M706.21 1708.54L694.77 1742.54M693.23 1703.98L680.88 1737.65M686.17 1701.33L679.83 1717.84M679.15 1698.57L672.57 1714.99M671.76 1695.54L650.85 1745.39M529.47 1605.67L493.44 1645.97M483.18 1558.53L469.78 1570.07M472.66 1545.92L388.14 1614.12M429.81 1483.92L414.56 1492.87M423.66 1473.13L360.47 1508.15M410.01 1446.72L361.28 1470.12M379.35 1365.91L362.35 1370.75M377.34 1358.64L360.26 1363.23M362.92 1281.96L345.34 1283.88M360.67 1198.66L306.69 1195.69M371.48 1118.71L336.42 1111.1M374.05 1107.46L356.86 1103.32M430.26 968.52L336.68 913.39M578.56 808.79L568.48 794.26M613.38 786.67L604.51 771.37M659.14 763.15L651.87 747.03M666.04 760.1L659.01 743.87" stroke="#ea3828" stroke-width="7" fill="none"/>
<path d="M1073.85 781.97L1081.61 765.18M1356.37 1268.86L1374.8 1270.46M1266.16 1512.42L1281.18 1523.21M811.68 1713.1L809.54 1731.48M541.93 1591.73L529.6 1605.53M501.38 1522.75L472.82 1545.79M471.85 1446.41L423.83 1473.03M426.87 1438.62L410.19 1446.63M410.61 1339.89L374.98 1348.71M391.15 1336.78L373.13 1340.94M386.19 1140.71L367.98 1137.46M446.37 978.01L430.43 968.62M545.45 858.35L533.25 844.44M629.07 799.25L620.03 783.11" stroke="#3b8cc6" stroke-width="7" fill="none"/>
<path d="M1082.53 763.18L1166.84 580.72M1100.64 771.98L1196.49 595.26M1137.79 792.96L1244.07 622.36M1165.94 811.77L1282.88 648.3M1265.97 906.37L1422.9 780.77M1331.33 1011.42L1513.92 927.37M1352.8 1065.46L1543.84 1002.96M1355 1072.24L1554.02 1036.46M1368.11 1122.2L1565.02 1081.83M1372.61 1146.74L1571.14 1115.3M1377.03 1270.21L1577.25 1287.99M1368.83 1327.5L1565.86 1367.23M1367.18 1335.35L1558.61 1399.33M1356.07 1377.56L1548.01 1437.23M1334.04 1435.87L1517.58 1517.81M1318.73 1467.05L1496.15 1561.51M1282.97 1524.5L1446.41 1641.49M1279.03 1529.9L1424.45 1670.49M1268.2 1544.04L1401.28 1698.05M1264.01 1549.25L1376.75 1724.41M1254.55 1560.51L1350.91 1749.49M1226.85 1590.09L1323.84 1773.23M1149.42 1652.79L1297.58 1794.08M1158.28 1646.81L1272.42 1812.26M1149.42 1652.79L1246.49 1829.33M1068.28 1696.34L1147.55 1881.05M1032.07 1710.15L1096.99 1900.38M862.16 1737.06L859.71 1938.05M809.28 1733.67L786.01 1933.31M705.57 1710.44L641.23 1900.86M692.54 1705.85L611.57 1890.13M685.45 1703.19L581.28 1877.59M678.4 1700.43L550.93 1863.35M670.98 1697.38L519.45 1846.65M528.14 1607.17L393.79 1756.67M481.66 1559.83L328.99 1690.57M471.11 1547.18L307.27 1664.06M428.09 1484.93L254.91 1586.96M421.91 1474.1L238.33 1557.12M408.21 1447.58L222.88 1525.83M391.81 1409.55L204.16 1481.58M377.43 1366.46L183.44 1419.13M375.41 1359.16L174.44 1383.63M372.85 1349.24L167.28 1347.7M370.98 1341.44L162.16 1312.94M360.93 1282.18L158.72 1277.47M358.67 1198.55L157.96 1187.75M365.81 1137.08L167.97 1101.58M369.52 1118.28L174.77 1068.12M372.11 1106.99L183.68 1033.23M428.54 967.5L255.54 865.17M467.77 910.2L310.34 785.24M531.8 842.79L399.74 691.26M577.42 807.15L463.05 641.86M612.38 784.94L511.58 611.04M618.96 781.19L541.74 594.52M657.92 761.51L576.74 577.63M666.06 757.91L608.56 564.24" stroke="#333" stroke-width="1.2" fill="none"/>
<text transform="translate(1167.97 578.27) rotate(-65.2) scale(1 1)" dy="12.6" fill="#6e6e6e" stroke="#6e6e6e" stroke-width="0.91" class="l">c.67-1G&gt;A</text>
<text transform="translate(1197.74 592.87) rotate(-62.54) scale(1 1)" dy="12.6" fill="#6e6e6e" stroke="#6e6e6e" stroke-width="0.87" class="l">p.His44fs</text>
<text transform="translate(1245.49 620.07) rotate(-58.13) scale(1 1)" dy="12.6" fill="#6e6e6e" stroke="#6e6e6e" stroke-width="0.82" class="l">p.Trp69*</text>
<text transform="translate(1284.46 646.1) rotate(-54.37) scale(1 1)" dy="12.6" fill="#6e6e6e" stroke="#6e6e6e" stroke-width="0.81" class="l">c.302+1G&gt;C</text>
<text transform="translate(1425 779.08) rotate(-38.8) scale(1 1)" dy="12.6" fill="#6e6e6e" stroke="#6e6e6e" stroke-width="0.8" class="l">c.579+1G&gt;T</text>
<text transform="translate(1516.37 926.24) rotate(-24.87) scale(1 1)" dy="12.6" fill="#6e6e6e" stroke="#6e6e6e" stroke-width="0.91" class="l">p.Arg285*</text>
<text transform="translate(1546.4 1002.11) rotate(-18.32) scale(1.01 1)" dy="12.6" fill="#6e6e6e" stroke="#6e6e6e" stroke-width="1.07" class="l">p.Met330fs</text>
<text transform="translate(1556.62 1035.74) rotate(-15.5) scale(1.01 1)" dy="12.6" fill="#6e6e6e" stroke="#6e6e6e" stroke-width="1.15" class="l">p.Leu331fs</text>
<text transform="translate(1567.66 1081.28) rotate(-11.74) scale(1.02 1)" dy="12.6" fill="#6e6e6e" stroke="#6e6e6e" stroke-width="1.26" class="l">p.Met370fs</text>
<text transform="translate(1573.81 1114.87) rotate(-9) scale(1.02 1)" dy="12.6" fill="#6e6e6e" stroke="#6e6e6e" stroke-width="1.33" class="l">p.Leu396fs</text>
<text transform="translate(1579.94 1288.23) rotate(4.95) scale(1.02 1)" dy="12.6" fill="#6e6e6e" stroke="#6e6e6e" stroke-width="1.41" class="l">p.Pro486fs</text>
<text transform="translate(1568.51 1367.77) rotate(11.4) scale(1.02 1)" dy="12.6" fill="#6e6e6e" stroke="#6e6e6e" stroke-width="1.27" class="l">p.Val541fs</text>
<text transform="translate(1561.23 1399.99) rotate(14.05) scale(0.96 1)" dy="12.6" fill="#0a6bd8" stroke="#0a6bd8" stroke-width="1.69" font-style="italic" class="l">rs3764650</text>
<text transform="translate(1550.59 1438.03) rotate(17.22) scale(0.96 1)" dy="12.6" fill="#8b0000" stroke="#8b0000" stroke-width="1.6" font-style="italic" class="l">p.Arg578fs</text>
<text transform="translate(1520.04 1518.91) rotate(24.16) scale(1 1)" dy="12.6" fill="#6e6e6e" stroke="#6e6e6e" stroke-width="0.93" class="l">p.Tyr622*</text>
<text transform="translate(1498.53 1562.78) rotate(28.08) scale(1 1)" dy="12.6" fill="#6e6e6e" stroke="#6e6e6e" stroke-width="0.86" class="l">p.Cys659fs</text>
<text transform="translate(1448.61 1643.06) rotate(35.67) scale(1 1)" dy="12.6" fill="#6e6e6e" stroke="#6e6e6e" stroke-width="0.81" class="l">p.Glu709fs</text>
<text transform="translate(1426.56 1672.17) rotate(38.6) scale(1 1)" dy="12.6" fill="#6e6e6e" stroke="#6e6e6e" stroke-width="0.8" class="l">p.Glu712*</text>
<text transform="translate(1403.3 1699.84) rotate(41.5) scale(1 1)" dy="12.6" fill="#6e6e6e" stroke="#6e6e6e" stroke-width="0.8" class="l">p.Gln732*</text>
<text transform="translate(1378.68 1726.3) rotate(44.4) scale(1 1)" dy="12.6" fill="#6e6e6e" stroke="#6e6e6e" stroke-width="0.8" class="l">p.Leu737fs</text>
<text transform="translate(1352.74 1751.48) rotate(47.3) scale(1 1)" dy="12.6" fill="#6e6e6e" stroke="#6e6e6e" stroke-width="0.8" class="l">p.Tyr750*</text>
<text transform="translate(1325.57 1775.31) rotate(50.2) scale(1 1)" dy="12.6" fill="#6e6e6e" stroke="#6e6e6e" stroke-width="0.8" class="l">p.Gly776*</text>
<text transform="translate(1299.21 1796.23) rotate(52.9) scale(0.95 1)" dy="12.6" fill="#2fa250" stroke="#2fa250" stroke-width="0.8" class="l">rs115550680</text>
<text transform="translate(1273.95 1814.48) rotate(55.4) scale(1 1)" dy="12.6" fill="#6e6e6e" stroke="#6e6e6e" stroke-width="0.81" class="l">p.Thr849fs</text>
<text transform="translate(1247.92 1831.61) rotate(57.9) scale(1 1)" dy="12.6" fill="#8b0000" stroke="#8b0000" stroke-width="0.2" font-weight="bold" class="l">VNTR</text>
<text transform="translate(1148.61 1883.54) rotate(66.9) scale(1.01 1)" dy="12.6" fill="#6e6e6e" stroke="#6e6e6e" stroke-width="0.95" class="l">p.Glu919*</text>
<text transform="translate(1097.85 1902.94) rotate(71.26) scale(1.01 1)" dy="12.6" fill="#6e6e6e" stroke="#6e6e6e" stroke-width="1.06" class="l">c.2825-1G&gt;T</text>
<text transform="translate(859.64 1943.35) rotate(270.7) scale(0.94 1)" dy="15.5" text-anchor="end" fill="#8b0000" stroke="#8b0000" stroke-width="1.7" class="l">rs78117248</text>
<text transform="translate(785.39 1938.58) rotate(276.65) scale(1.01 1)" dy="15.5" text-anchor="end" fill="#6e6e6e" stroke="#6e6e6e" stroke-width="1.38" class="l">p.Arg1118*</text>
<text transform="translate(639.53 1905.88) rotate(288.62) scale(0.98 1)" dy="15.5" text-anchor="end" fill="#6e6e6e" stroke="#6e6e6e" stroke-width="1.06" class="l">c.3577+1G&gt;C</text>
<text transform="translate(609.65 1895.07) rotate(291.16) scale(0.98 1)" dy="15.5" text-anchor="end" fill="#6e6e6e" stroke="#6e6e6e" stroke-width="0.99" class="l">c.3578-2A&gt;G</text>
<text transform="translate(579.14 1882.44) rotate(293.8) scale(0.97 1)" dy="15.5" text-anchor="end" fill="#6e6e6e" stroke="#6e6e6e" stroke-width="0.93" class="l">p.Pro1205fs</text>
<text transform="translate(548.57 1868.09) rotate(296.5) scale(0.97 1)" dy="15.5" text-anchor="end" fill="#6e6e6e" stroke="#6e6e6e" stroke-width="0.89" class="l">p.Gly1204fs</text>
<text transform="translate(516.85 1851.27) rotate(299.37) scale(0.97 1)" dy="15.5" text-anchor="end" fill="#6e6e6e" stroke="#6e6e6e" stroke-width="0.85" class="l">p.Trp1214*</text>
<text transform="translate(390.26 1760.62) rotate(311.84) scale(0.97 1)" dy="15.5" text-anchor="end" fill="#6e6e6e" stroke="#6e6e6e" stroke-width="0.8" class="l">p.Trp1336*</text>
<text transform="translate(324.97 1694.02) rotate(319.3) scale(0.97 1)" dy="15.5" text-anchor="end" fill="#6e6e6e" stroke="#6e6e6e" stroke-width="0.8" class="l">p.Gln1401fs</text>
<text transform="translate(303.09 1667.31) rotate(322.06) scale(0.97 1)" dy="15.5" text-anchor="end" fill="#6e6e6e" stroke="#6e6e6e" stroke-width="0.8" class="l">p.Leu1403fs</text>
<text transform="translate(250.34 1589.65) rotate(329.57) scale(0.97 1)" dy="15.5" text-anchor="end" fill="#6e6e6e" stroke="#6e6e6e" stroke-width="0.84" class="l">p.Trp1461*</text>
<text transform="translate(233.63 1559.58) rotate(332.32) scale(0.97 1)" dy="15.5" text-anchor="end" fill="#6e6e6e" stroke="#6e6e6e" stroke-width="0.87" class="l">c.4416+2T&gt;G</text>
<text transform="translate(218.07 1528.06) rotate(335.13) scale(0.97 1)" dy="15.5" text-anchor="end" fill="#6e6e6e" stroke="#6e6e6e" stroke-width="0.91" class="l">p.Arg1489*</text>
<text transform="translate(199.21 1483.48) rotate(339) scale(0.94 1)" dy="15.5" text-anchor="end" fill="#0a6bd8" stroke="#0a6bd8" stroke-width="1.25" class="l">rs3752246</text>
<text transform="translate(178.34 1420.57) rotate(344.3) scale(0.99 1)" dy="15.5" text-anchor="end" fill="#6e6e6e" stroke="#6e6e6e" stroke-width="1.15" class="l">p.Arg1561*</text>
<text transform="translate(169.27 1384.8) rotate(347.25) scale(0.99 1)" dy="15.5" text-anchor="end" fill="#6e6e6e" stroke="#6e6e6e" stroke-width="1.23" class="l">p.Arg1564*</text>
<text transform="translate(162.06 1348.61) rotate(350.2) scale(1 1)" dy="15.5" text-anchor="end" fill="#6e6e6e" stroke="#6e6e6e" stroke-width="1.31" class="l">p.Thr1577fs</text>
<text transform="translate(156.9 1313.58) rotate(353.03) scale(1 1)" dy="15.5" text-anchor="end" fill="#6e6e6e" stroke="#6e6e6e" stroke-width="1.38" class="l">p.Tyr1579*</text>
<text transform="translate(153.43 1277.85) rotate(355.9) scale(1.01 1)" dy="15.5" text-anchor="end" fill="#6e6e6e" stroke="#6e6e6e" stroke-width="1.42" class="l">p.Tyr1626*</text>
<text transform="translate(152.67 1187.46) rotate(363.13) scale(1.01 1)" dy="15.5" text-anchor="end" fill="#6e6e6e" stroke="#6e6e6e" stroke-width="1.43" class="l">p.Glu1679*</text>
<text transform="translate(162.75 1100.65) rotate(370.12) scale(1 1)" dy="15.5" text-anchor="end" fill="#6e6e6e" stroke="#6e6e6e" stroke-width="1.3" class="l">p.Leu1725fs</text>
<text transform="translate(169.61 1066.94) rotate(372.87) scale(0.99 1)" dy="15.5" text-anchor="end" fill="#6e6e6e" stroke="#6e6e6e" stroke-width="1.23" class="l">p.Leu1745fs</text>
<text transform="translate(178.58 1031.79) rotate(375.77) scale(0.99 1)" dy="15.5" text-anchor="end" fill="#6e6e6e" stroke="#6e6e6e" stroke-width="1.14" class="l">p.Arg1754*</text>
<text transform="translate(250.97 862.47) rotate(390.53) scale(0.97 1)" dy="15.5" text-anchor="end" fill="#6e6e6e" stroke="#6e6e6e" stroke-width="0.84" class="l">c.5570+5G&gt;C</text>
<text transform="translate(306.18 781.95) rotate(398.34) scale(0.94 1)" dy="15.5" text-anchor="end" fill="#0a6bd8" stroke="#0a6bd8" stroke-width="1.05" class="l">rs4147929</text>
<text transform="translate(396.25 687.27) rotate(408.8) scale(0.97 1)" dy="15.5" text-anchor="end" fill="#6e6e6e" stroke="#6e6e6e" stroke-width="0.8" class="l">p.Glu1974*</text>
<text transform="translate(460.03 637.5) rotate(415.27) scale(0.97 1)" dy="15.5" text-anchor="end" fill="#6e6e6e" stroke="#6e6e6e" stroke-width="0.81" class="l">c.6044+1G&gt;A</text>
<text transform="translate(508.92 606.46) rotate(419.9) scale(0.97 1)" dy="15.5" text-anchor="end" fill="#6e6e6e" stroke="#6e6e6e" stroke-width="0.84" class="l">p.Ala2045fs</text>
<text transform="translate(539.31 589.81) rotate(422.67) scale(0.97 1)" dy="15.5" text-anchor="end" fill="#6e6e6e" stroke="#6e6e6e" stroke-width="0.87" class="l">p.Glu2046fs</text>
<text transform="translate(574.57 572.79) rotate(425.8) scale(0.97 1)" dy="15.5" text-anchor="end" fill="#6e6e6e" stroke="#6e6e6e" stroke-width="0.93" class="l">c.6285+1<tspan dx="4">_</tspan><tspan dx="4">6285+3delGTG</tspan></text>
<text transform="translate(606.62 559.31) rotate(428.58) scale(0.98 1)" dy="15.5" text-anchor="end" fill="#6e6e6e" stroke="#6e6e6e" stroke-width="0.99" class="l">p.Glu2095fs</text>
<text x="759.5" y="611.3" font-size="23" class="d">7</text>
<text x="781.5" y="728.9" font-size="23" class="d">0</text>
<text x="791" y="780" font-size="23" class="d">3</text>
<text transform="translate(958.5 610.5) rotate(10)" font-size="23" class="d">7</text>
<text transform="translate(936.5 728.5) rotate(10)" font-size="23" class="d">0</text>
<text transform="translate(926.5 780) rotate(10)" font-size="23" class="d">3</text>
</g>
</svg>
</body></html>
